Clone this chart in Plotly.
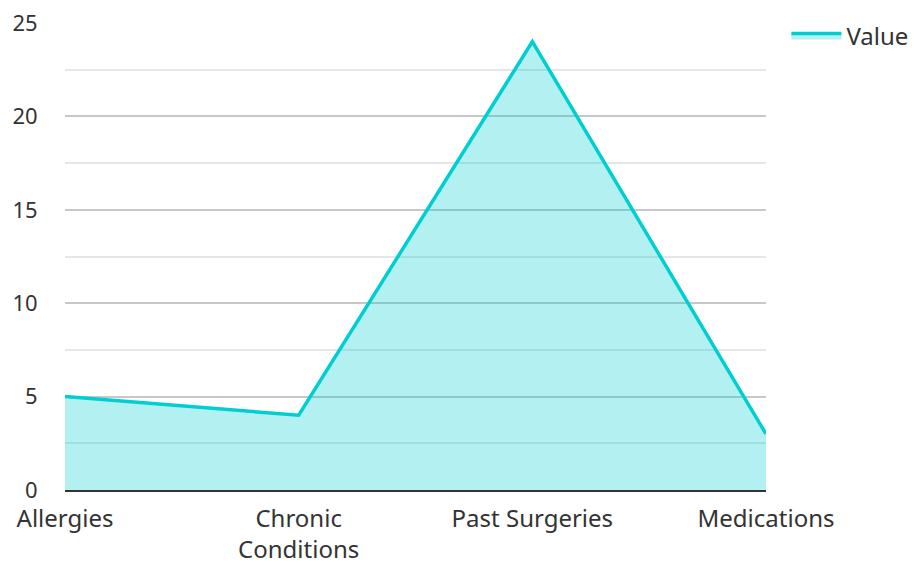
import plotly.graph_objects as go

categories = ["Allergies", "Chronic<br>Conditions", "Past Surgeries", "Medications"]
values = [5, 4, 24, 3]
series_name = "Value"

fig = go.Figure()
fig.add_trace(go.Scatter(
    x=categories, y=values, name=series_name, mode="lines",
    line=dict(color="#00CED1", width=3.5),
    fill="tozeroy", fillcolor="rgba(0,206,209,0.3)",
))

font_y = dict(family="Noto Sans", size=22, color="#333333")
font_x = dict(family="Noto Sans", size=24, color="#333333")
fig.update_layout(
    width=916, height=562,
    margin=dict(l=65, r=150, t=23, b=72),
    plot_bgcolor="white", paper_bgcolor="white",
    font=font_x,
    showlegend=True,
    legend=dict(xref="container", yref="container", x=0.8585, y=0.976,
                xanchor="left", yanchor="top", font=font_x,
                bgcolor="rgba(0,0,0,0)", itemwidth=50),
    xaxis=dict(range=[0, 3], showgrid=False, showline=True, linecolor="#333333",
               linewidth=2, ticks="outside", tickcolor="rgba(0,0,0,0)", ticklen=6,
               tickfont=font_x, zeroline=False, automargin=False),
    yaxis=dict(range=[0, 25], dtick=5, showgrid=True, gridcolor="#c8c8c8", gridwidth=1.5,
               zeroline=False, showline=False, ticks="outside", tickcolor="rgba(0,0,0,0)",
               ticklen=22, tickfont=font_y, automargin=False,
               minor=dict(dtick=2.5, showgrid=True, gridcolor="#e6e6e6", gridwidth=1.5)),
)

fig.write_html("out.html")
